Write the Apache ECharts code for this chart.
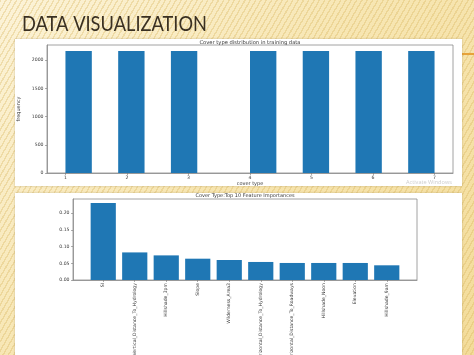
<!DOCTYPE html>
<html>
<head>
<meta charset="utf-8">
<script src="https://cdn.jsdelivr.net/npm/echarts@6/dist/echarts.min.js"></script>
<style>
html,body{margin:0;padding:0;width:474px;height:355px;overflow:hidden}
body{position:relative;
 background:
  repeating-linear-gradient(120deg, rgba(214,178,88,0.32) 0 1.4px, rgba(0,0,0,0) 1.4px 4.6px),
  linear-gradient(135deg,#fcf3d8 0%,#f7e6b3 45%,#f3dc9a 100%);}
.panel{position:absolute;background:#fff;box-shadow:0 0 2px rgba(120,100,60,0.35)}
#accent{position:absolute;left:462px;top:53px;width:12px;height:1.5px;background:#e7a23a}
#chart{position:absolute;left:0;top:0;width:474px;height:355px}
</style>
</head>
<body>
<div id="accent"></div>
<div class="panel" style="left:15px;top:39px;width:447px;height:147px"></div>
<div class="panel" style="left:15px;top:193px;width:447px;height:165px"></div>
<div id="chart"></div>
<script>
// ---- data ----
const slideTitle = 'DATA VISUALIZATION';
const histTitle = 'Cover type distribution in training data';
const histXName = 'cover type';
const histYName = 'frequency';
const coverTypes = [1, 2, 3, 4, 5, 6, 7];
const coverCounts = [2160, 2160, 2160, 2160, 2160, 2160, 2160];
const histBins = 14;
const histTicksX = [1, 2, 3, 4, 5, 6, 7];
const histTicksY = [0, 500, 1000, 1500, 2000];

const featTitle = 'Cover Type:Top 10 Feature Importances';
const featureNames = ['SI', 'Vertical_Distance_To_Hydrology', 'Hillshade_3pm', 'Slope',
  'Wilderness_Area3', 'Horizontal_Distance_To_Hydrology', 'Horizontal_Distance_To_Roadways',
  'Hillshade_Noon', 'Elevation', 'Hillshade_9am'];
const importances = [0.2305, 0.0826, 0.0737, 0.0638, 0.0599, 0.054, 0.051, 0.051, 0.051, 0.044];
const featTicksY = [0, 0.05, 0.10, 0.15, 0.20];
const watermark = 'Activate Windows';

// ---- histogram binning (matplotlib style) ----
const hMin = Math.min(...coverTypes), hMax = Math.max(...coverTypes);
const bw = (hMax - hMin) / histBins;
const histData = coverTypes.map((v, i) => {
  let idx = Math.floor((v - hMin) / bw + 1e-9);
  if (idx >= histBins) idx = histBins - 1;
  return [hMin + (idx + 0.5) * bw, coverCounts[i]];
});
const featData = importances.map((v, i) => [i, v]);
const featPos = featureNames.map((n, i) => i);

const BLUE = '#1f77b4';
const TXT = '#3a3a3a';
const LINE = '#8a8a8a';
const FONT = 'DejaVu Sans';

const mctx = document.createElement('canvas').getContext('2d');
mctx.font = '22px Lato';
const titleScale = 185 / mctx.measureText(slideTitle).width;

const axisTxt = {fontSize: 4.6, color: TXT, fontFamily: FONT};
const axLine = {show: true, onZero: false, lineStyle: {color: LINE, width: 0.8}};
const chart = echarts.init(document.getElementById('chart'), null, {renderer: 'canvas'});
chart.setOption({
  backgroundColor: 'transparent',
  animation: false,
  title: [
    {text: histTitle, left: 250, top: 40.2, textAlign: 'center', padding: 0,
     textStyle: {fontSize: 5.2, fontWeight: 'normal', color: TXT, fontFamily: FONT}},
    {text: featTitle, left: 245, top: 193.6, textAlign: 'center', padding: 0,
     textStyle: {fontSize: 5, fontWeight: 'normal', color: TXT, fontFamily: FONT}}
  ],
  grid: [
    {left: 47, top: 45, width: 406, height: 128, show: true, borderColor: LINE, borderWidth: 0.8,
     backgroundColor: '#fff', containLabel: false, outerBoundsMode: 'none'},
    {left: 73, top: 199, width: 344, height: 81, show: true, borderColor: LINE, borderWidth: 0.8,
     backgroundColor: '#fff', containLabel: false, outerBoundsMode: 'none'}
  ],
  xAxis: [
    {gridIndex: 0, type: 'value', min: 0.7, max: 7.3, splitLine: {show: false}, axisLine: axLine,
     axisTick: {show: true, length: 2, customValues: histTicksX, lineStyle: {color: '#777', width: 0.6}},
     axisLabel: {customValues: histTicksX, margin: 2.5, formatter: v => String(v), ...axisTxt},
     name: histXName, nameLocation: 'middle', nameGap: 5.5,
     nameTextStyle: {fontSize: 5, color: TXT, fontFamily: FONT}},
    {gridIndex: 1, type: 'value', min: -0.96, max: 9.96, splitLine: {show: false}, axisLine: axLine,
     axisTick: {show: true, length: 2, customValues: featPos, lineStyle: {color: '#777', width: 0.6}},
     axisLabel: {customValues: featPos, rotate: 90, margin: 3, overflow: 'none', hideOverlap: false,
                 formatter: v => featureNames[Math.round(v)], ...axisTxt}}
  ],
  yAxis: [
    {gridIndex: 0, type: 'value', min: 0, max: 2268, splitLine: {show: false}, axisLine: axLine,
     axisTick: {show: true, length: 2, customValues: histTicksY, lineStyle: {color: '#777', width: 0.6}},
     axisLabel: {customValues: histTicksY, margin: 3.5, formatter: v => String(v), ...axisTxt},
     name: histYName, nameLocation: 'middle', nameGap: 18,
     nameTextStyle: {fontSize: 5, color: TXT, fontFamily: FONT}},
    {gridIndex: 1, type: 'value', min: 0, max: 0.2425, splitLine: {show: false}, axisLine: axLine,
     axisTick: {show: true, length: 2, customValues: featTicksY, lineStyle: {color: '#777', width: 0.6}},
     axisLabel: {customValues: featTicksY, margin: 3.5, formatter: v => v.toFixed(2), ...axisTxt}}
  ],
  series: [
    {type: 'bar', xAxisIndex: 0, yAxisIndex: 0, barWidth: '50%', itemStyle: {color: BLUE},
     data: histData},
    {type: 'bar', xAxisIndex: 1, yAxisIndex: 1, barWidth: '80%', itemStyle: {color: BLUE},
     data: featData}
  ],
  graphic: [
    {type: 'text', x: 22, y: 12.5, scaleX: titleScale, z: 10,
     style: {text: slideTitle, font: '22px Lato', fill: '#3a3022',
             shadowBlur: 2, shadowColor: 'rgba(60,45,20,0.45)', shadowOffsetY: 1}},
    {type: 'text', x: 406, y: 179.5, z: 10,
     style: {text: watermark, font: '5.6px "Open Sans"', fill: '#cdcdcd'}}
  ]
});
</script>
</body>
</html>
